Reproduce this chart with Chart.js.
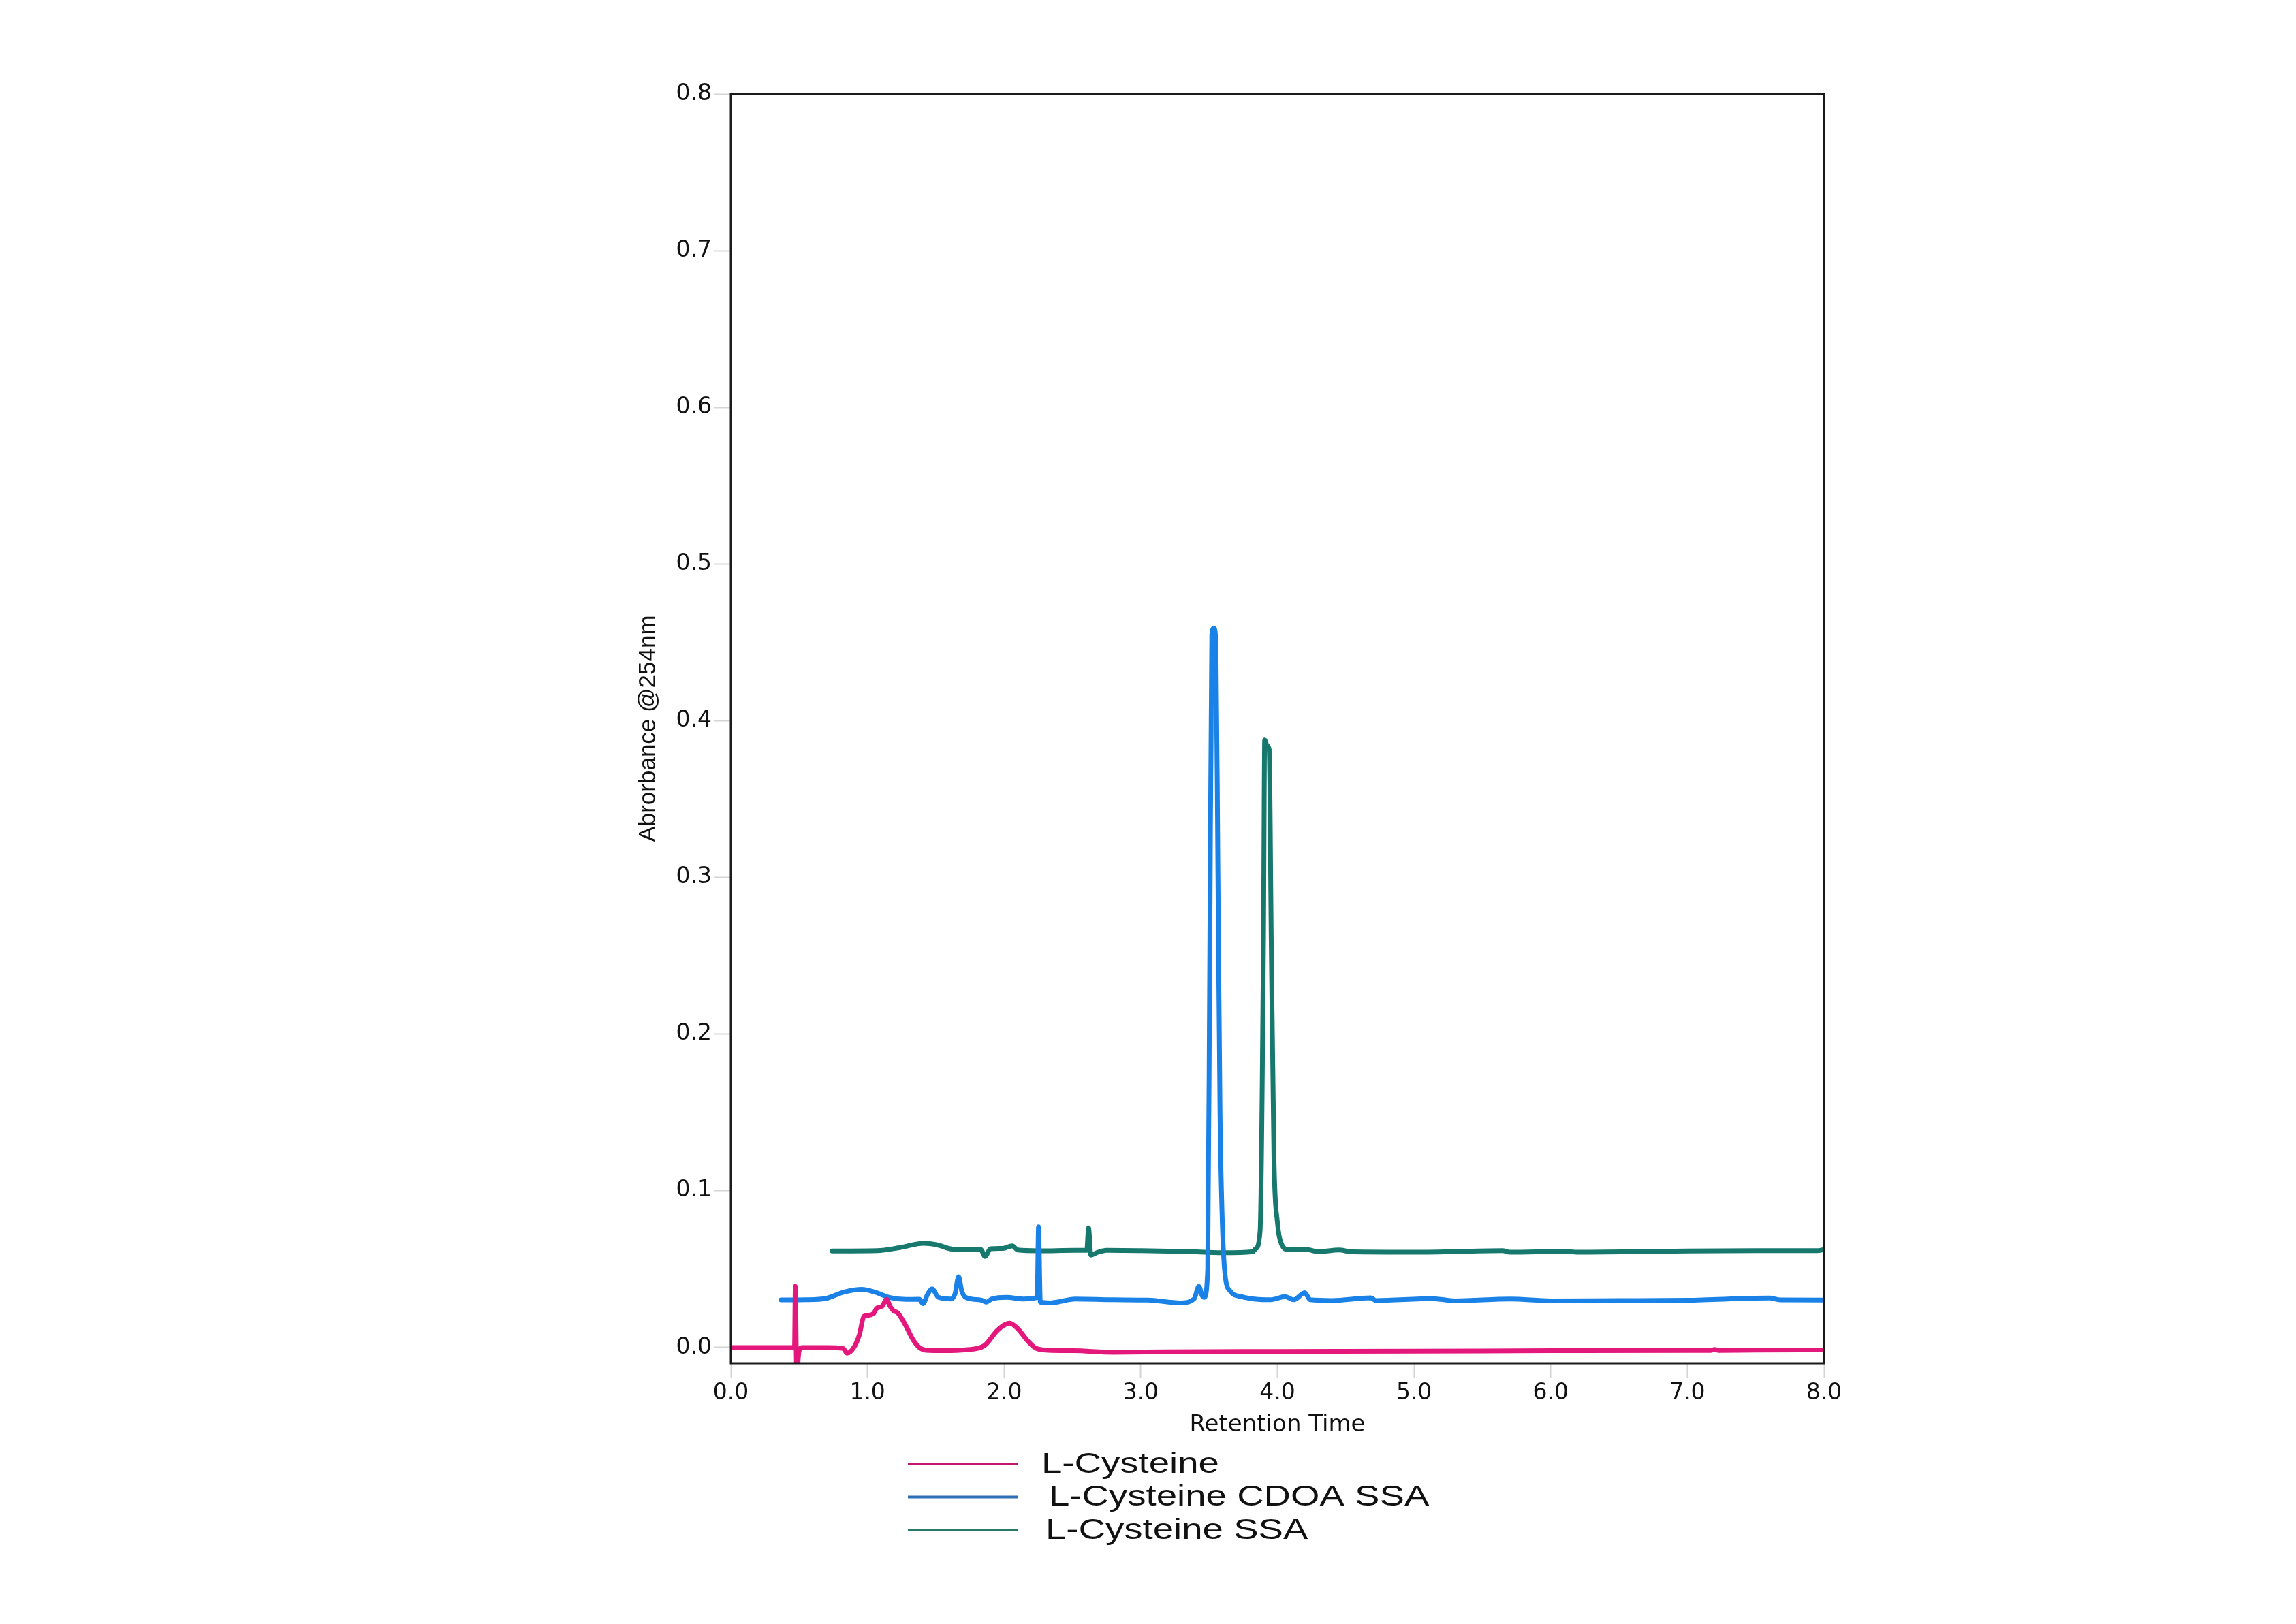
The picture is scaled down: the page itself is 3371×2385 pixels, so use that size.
<!DOCTYPE html>
<html>
<head>
<meta charset="utf-8">
<script src="https://cdn.jsdelivr.net/npm/chart.js@4.4.1/dist/chart.umd.min.js"></script>
<style>
  html, body { margin: 0; padding: 0; background: #fff; }
  canvas { display: block; }
</style>
</head>
<body>
<canvas id="chromatogram" width="3371" height="2385" style="width:3371px;height:2385px"></canvas>
<script>
// series labels
const seriesNames = ['L-Cysteine', 'L-Cysteine CDOA SSA', 'L-Cysteine SSA'];

// L-Cysteine trace (retention time in min, absorbance)
const cysTime = [0, 0.2, 0.4, 0.466, 0.472, 0.482, 0.50, 0.52, 0.56, 0.7, 0.82, 0.852, 0.90, 0.94, 0.974, 1.00, 1.048, 1.065, 1.107, 1.14, 1.165, 1.19, 1.223, 1.28, 1.33, 1.38, 1.43, 1.56, 1.72, 1.855, 1.955, 2.04, 2.10, 2.17, 2.23, 2.32, 2.51, 2.8, 3.2, 4.0, 5.0, 6.0, 7.0, 7.17, 7.20, 7.23, 7.5, 8.0];
const cysAbs = [0.0, 0.0, 0.0, 0.0, 0.039, -0.016, -0.002, 0.0, 0.0, 0.0, -0.0005, -0.0036, 0.0, 0.008, 0.0199, 0.0206, 0.022, 0.0249, 0.0264, 0.0307, 0.0264, 0.0235, 0.022, 0.014, 0.0055, 0.0, -0.0017, -0.002, -0.0014, 0.0012, 0.0113, 0.0155, 0.012, 0.0045, -0.0003, -0.0017, -0.002, -0.003, -0.0027, -0.0025, -0.0023, -0.002, -0.0018, -0.0018, -0.0012, -0.0018, -0.0016, -0.0015];

// L-Cysteine CDOA SSA trace
const cdoaTime = [0.367, 0.55, 0.70, 0.83, 0.96, 1.06, 1.16, 1.28, 1.38, 1.406, 1.44, 1.472, 1.52, 1.61, 1.64, 1.667, 1.69, 1.72, 1.83, 1.87, 1.91, 2.02, 2.14, 2.242, 2.252, 2.265, 2.34, 2.52, 2.8, 3.05, 3.29, 3.39, 3.425, 3.45, 3.465, 3.49, 3.505, 3.52, 3.535, 3.55, 3.565, 3.58, 3.595, 3.615, 3.655, 3.74, 3.83, 3.95, 4.056, 4.12, 4.20, 4.24, 4.4, 4.684, 4.72, 5.137, 5.3, 5.706, 6.0, 6.5, 7.0, 7.60, 7.68, 8.0];
const cdoaAbs = [0.0304, 0.0305, 0.0314, 0.0355, 0.0372, 0.0352, 0.032, 0.0307, 0.0308, 0.028, 0.034, 0.0375, 0.032, 0.031, 0.034, 0.0452, 0.036, 0.032, 0.0303, 0.029, 0.031, 0.032, 0.031, 0.032, 0.077, 0.029, 0.0285, 0.031, 0.0305, 0.0303, 0.0285, 0.031, 0.039, 0.033, 0.032, 0.05, 0.25, 0.455, 0.459, 0.45, 0.30, 0.15, 0.085, 0.048, 0.036, 0.0324, 0.031, 0.0305, 0.0325, 0.0305, 0.035, 0.0305, 0.030, 0.0317, 0.030, 0.0312, 0.0298, 0.031, 0.0298, 0.0300, 0.0302, 0.0316, 0.0304, 0.0303];

// L-Cysteine SSA trace
const ssaTime = [0.741, 1.07, 1.24, 1.41, 1.51, 1.62, 1.74, 1.83, 1.86, 1.90, 1.99, 2.06, 2.10, 2.25, 2.52, 2.605, 2.618, 2.635, 2.68, 2.75, 3.0, 3.33, 3.6, 3.82, 3.84, 3.873, 3.898, 3.907, 3.925, 3.94, 3.955, 3.975, 4.00, 4.03, 4.08, 4.21, 4.3, 4.45, 4.55, 5.0, 5.648, 5.7, 6.09, 6.2, 7.0, 7.5, 7.95, 8.0];
const ssaAbs = [0.0616, 0.0618, 0.0638, 0.0665, 0.0655, 0.0628, 0.0625, 0.0625, 0.0581, 0.063, 0.0632, 0.0649, 0.0622, 0.0617, 0.062, 0.062, 0.0764, 0.059, 0.0606, 0.062, 0.0618, 0.0613, 0.0605, 0.0612, 0.063, 0.074, 0.26, 0.3877, 0.384, 0.3816, 0.26, 0.12, 0.08, 0.066, 0.0625, 0.0626, 0.0612, 0.0622, 0.0610, 0.0608, 0.0618, 0.0608, 0.0614, 0.0608, 0.0616, 0.0618, 0.0618, 0.0625];

// axis ranges / ticks
const xTicks = [0, 1, 2, 3, 4, 5, 6, 7, 8];
const yTicks = [0, 0.1, 0.2, 0.3, 0.4, 0.5, 0.6, 0.7, 0.8];

const lineColors = ['#e4177d', '#1a82e6', '#17796d'];
const legendColors = ['#c2156f', '#2d6fb4', '#2a7868'];

function toPoints(xs, ys) {
  return xs.map((x, i) => ({x: x, y: ys[i]}));
}

// black box round the plot area
const frame = {
  id: 'frame',
  afterDatasetsDraw(chart) {
    const {ctx, chartArea: a} = chart;
    ctx.save();
    ctx.strokeStyle = '#1a1a1a';
    ctx.lineWidth = 3;
    ctx.strokeRect(a.left, a.top, a.right - a.left, a.bottom - a.top);
    ctx.restore();
  }
};

// legend stacked under the axis, like the original
const stackedLegend = {
  id: 'stackedLegend',
  afterDraw(chart) {
    const {ctx, chartArea: a} = chart;
    const x0 = a.left + 260, x1 = a.left + 421;
    const textX = [a.left + 456, a.left + 467, a.left + 462];
    ctx.save();
    chart.data.datasets.forEach((ds, i) => {
      const y = a.bottom + 148 + i * 48.5;
      ctx.strokeStyle = legendColors[i];
      ctx.lineWidth = 4;
      ctx.beginPath();
      ctx.moveTo(x0, y);
      ctx.lineTo(x1, y);
      ctx.stroke();
      ctx.save();
      ctx.translate(textX[i], y);
      ctx.scale(1.3, 1);
      ctx.fillStyle = '#111';
      ctx.font = '42px "Liberation Sans", Arial, sans-serif';
      ctx.textBaseline = 'middle';
      ctx.textAlign = 'left';
      ctx.fillText(ds.label, 0, 1);
      ctx.restore();
    });
    ctx.restore();
  }
};

const ctx = document.getElementById('chromatogram');
new Chart(ctx, {
  type: 'line',
  data: {
    datasets: [
      {label: seriesNames[0], data: toPoints(cysTime, cysAbs), borderColor: lineColors[0]},
      {label: seriesNames[1], data: toPoints(cdoaTime, cdoaAbs), borderColor: lineColors[1]},
      {label: seriesNames[2], data: toPoints(ssaTime, ssaAbs), borderColor: lineColors[2]}
    ]
  },
  options: {
    responsive: false,
    animation: false,
    devicePixelRatio: 1,
    layout: {padding: {left: 931, top: 138, right: 693, bottom: 271}},
    elements: {
      line: {borderWidth: 7, cubicInterpolationMode: 'monotone', fill: false, borderCapStyle: 'round', borderJoinStyle: 'round'},
      point: {radius: 0}
    },
    datasets: {line: {clip: 0}},
    plugins: {legend: {display: false}, tooltip: {enabled: false}},
    scales: {
      x: {
        type: 'linear',
        min: xTicks[0],
        max: xTicks[xTicks.length - 1],
        afterFit: (s) => { s.height = 112; },
        afterBuildTicks: (s) => { s.ticks = xTicks.map(v => ({value: v})); },
        grid: {drawOnChartArea: false, drawTicks: true, tickLength: 21, tickColor: '#d4d4d4', tickWidth: 2},
        border: {display: false},
        ticks: {
          padding: 4,
          color: '#111',
          font: {family: '"DejaVu Sans", sans-serif', size: 33},
          callback: (v) => v.toFixed(1)
        },
        title: {
          display: true,
          text: 'Retention Time',
          color: '#111',
          padding: 0,
          font: {family: '"DejaVu Sans", sans-serif', size: 34}
        }
      },
      y: {
        min: -0.01,
        max: yTicks[yTicks.length - 1],
        afterFit: (s) => { s.width = 142; },
        afterBuildTicks: (s) => { s.ticks = yTicks.map(v => ({value: v})); },
        grid: {drawOnChartArea: false, drawTicks: true, tickLength: 25, tickColor: '#d4d4d4', tickWidth: 2},
        border: {display: false},
        ticks: {
          padding: 3,
          color: '#111',
          font: {family: '"DejaVu Sans", sans-serif', size: 33},
          callback: (v) => v.toFixed(1)
        },
        title: {
          display: true,
          text: 'Abrorbance @254nm',
          color: '#111',
          padding: 0,
          font: {family: '"Liberation Sans", Arial, sans-serif', size: 35}
        }
      }
    }
  },
  plugins: [frame, stackedLegend]
});
</script>
</body>
</html>
